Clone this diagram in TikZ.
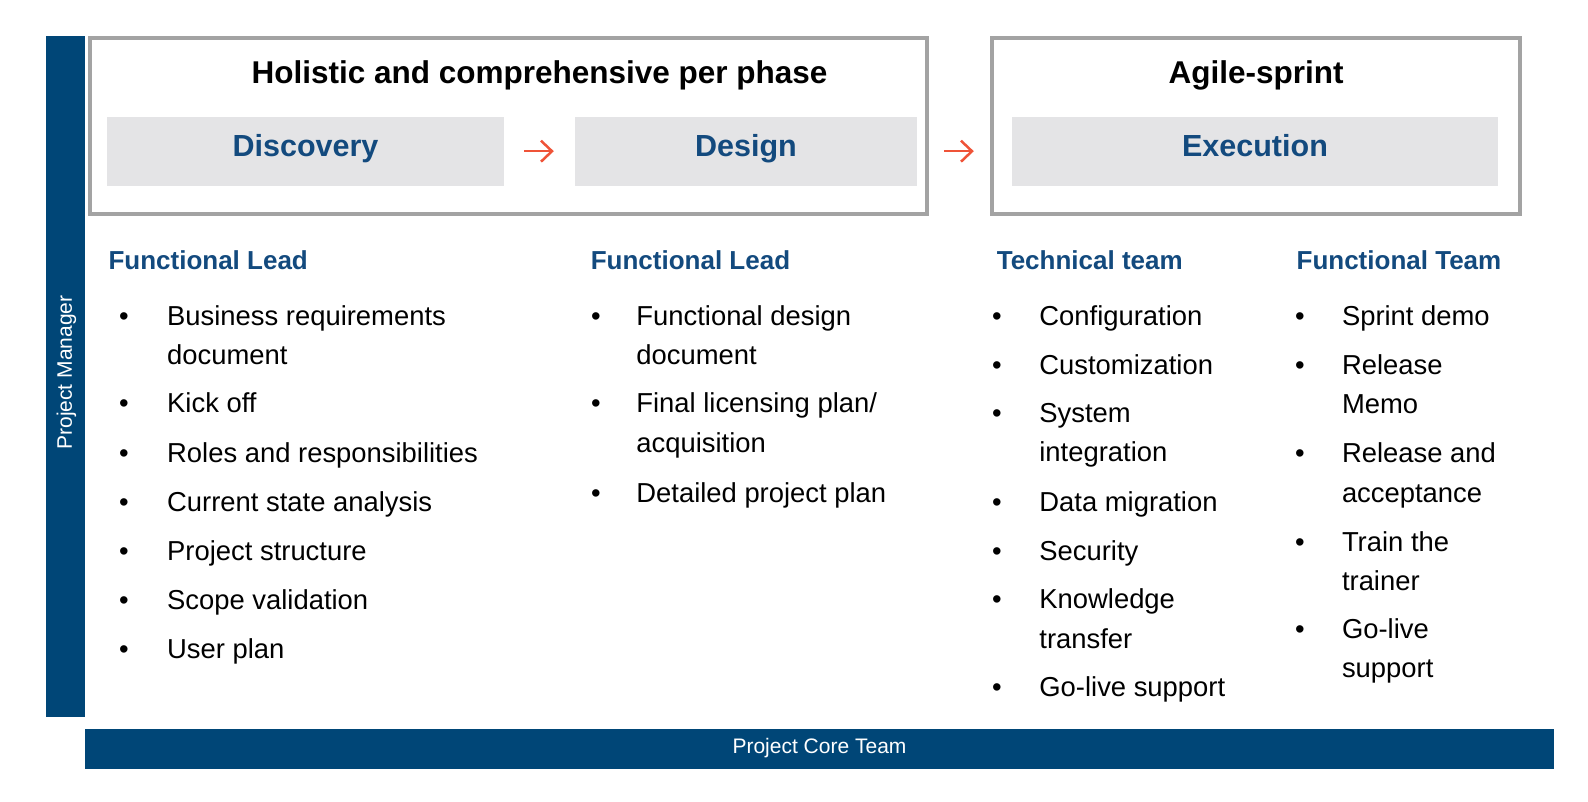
\documentclass[tikz,border=0pt]{standalone}
\usepackage{fontspec}
\setmainfont{Liberation Sans}
\usetikzlibrary{arrows.meta}
\definecolor{barblue}{HTML}{004677}
\definecolor{hblue}{HTML}{134A7E}
\definecolor{boxgray}{HTML}{E4E4E6}
\definecolor{framegray}{HTML}{A3A3A3}
\definecolor{arrred}{HTML}{EF5338}
\tikzset{
  bar/.style={fill=barblue, draw=none, inner sep=0pt},
  framebox/.style={draw=framegray, line width=4pt, inner sep=0pt},
  phasebox/.style={fill=boxgray, draw=none, inner sep=0pt, minimum height=69pt},
  phasetxt/.style={anchor=base, inner sep=0pt, font=\fontsize{30.5}{36}\selectfont\bfseries, text=hblue},
  titletxt/.style={anchor=base, inner sep=0pt, font=\fontsize{31.5}{38}\selectfont\bfseries, text=black},
  headtxt/.style={anchor=base west, inner sep=0pt, font=\fontsize{26}{31}\selectfont\bfseries, text=hblue},
  itemtxt/.style={anchor=base west, inner sep=0pt, font=\fontsize{27.4}{33}\selectfont, text=black},
  bul/.style={anchor=base, inner sep=0pt, font=\fontsize{27.4}{33}\selectfont, text=black},
  whitetxt/.style={inner sep=0pt, font=\fontsize{21}{25}\selectfont, text=white},
  arr/.style={draw=arrred, line width=2.5pt, -{Straight Barb[length=11pt,width=21pt]}},
}
\begin{document}
\begin{tikzpicture}[x=1pt,y=-1pt]
\useasboundingbox[fill=white] (0,0) rectangle (1588,802);

% side and bottom bars
\node[bar, minimum width=39pt, minimum height=681pt] (pmbar) at (65.5,376.5) {};
\node[whitetxt, rotate=90] (pmtxt) at (66.5,372.5) {Project Manager};
\node[bar, minimum width=1469pt, minimum height=40pt] (corebar) at (819.5,749) {};
\node[whitetxt, anchor=base] (coretxt) at (819.5,753.3) {Project Core Team};

% frames
\node[framebox, minimum width=837pt, minimum height=176pt] (f1) at (508.5,126) {};
\node[framebox, minimum width=528pt, minimum height=176pt] (f2) at (1256,126) {};
\node[titletxt] (t1) at (539.5,83.3) {Holistic and comprehensive per phase};
\node[titletxt] (t2) at (1256,83.3) {Agile-sprint};

% phase boxes
\node[phasebox, minimum width=397pt] (disc) at (305.5,151.2) {};
\node[phasebox, minimum width=342pt] (design) at (746,151.2) {};
\node[phasebox, minimum width=486pt] (exec) at (1255,151.2) {};
\node[phasetxt] (disctxt) at ([yshift=-5.5pt]disc.center) {Discovery};
\node[phasetxt] (designtxt) at ([yshift=-5.5pt]design.center) {Design};
\node[phasetxt] (exectxt) at ([yshift=-5.5pt]exec.center) {Execution};

% arrows
\draw[arr] ([xshift=20pt]disc.east) -- ([xshift=-21pt]design.west);
\draw[arr] ([xshift=27pt]design.east) -- ([xshift=-38pt]exec.west);

% column 1
\node[headtxt] (h1) at (108.3,269.5) {Functional Lead};
\node[bul] (b1a) at (124,325.8) {•};
\node[itemtxt] (i1a) at (167,325.8) {Business requirements};
\node[itemtxt] (i1a2) at (167,364) {document};
\node[bul] (b1b) at (124,412.8) {•};
\node[itemtxt] (i1b) at (167,412.8) {Kick off};
\node[bul] (b1c) at (124,462) {•};
\node[itemtxt] (i1c) at (167,462) {Roles and responsibilities};
\node[bul] (b1d) at (124,511.5) {•};
\node[itemtxt] (i1d) at (167,511.5) {Current state analysis};
\node[bul] (b1e) at (124,560.3) {•};
\node[itemtxt] (i1e) at (167,560.3) {Project structure};
\node[bul] (b1f) at (124,609) {•};
\node[itemtxt] (i1f) at (167,609) {Scope validation};
\node[bul] (b1g) at (124,658) {•};
\node[itemtxt] (i1g) at (167,658) {User plan};

% column 2
\node[headtxt] (h2) at (590.6,269.5) {Functional Lead};
\node[bul] (b2a) at (596,325.8) {•};
\node[itemtxt] (i2a) at (636.2,325.8) {Functional design};
\node[itemtxt] (i2a2) at (636.2,364) {document};
\node[bul] (b2b) at (596,412.8) {•};
\node[itemtxt] (i2b) at (636.2,412.8) {Final licensing plan/};
\node[itemtxt] (i2b2) at (636.2,452.5) {acquisition};
\node[bul] (b2c) at (596,502) {•};
\node[itemtxt] (i2c) at (636.2,502) {Detailed project plan};

% column 3
\node[headtxt] (h3) at (996.6,269.5) {Technical team};
\node[bul] (b3a) at (996.8,325.8) {•};
\node[itemtxt] (i3a) at (1039.2,325.8) {Configuration};
\node[bul] (b3b) at (996.8,374.3) {•};
\node[itemtxt] (i3b) at (1039.2,374.3) {Customization};
\node[bul] (b3c) at (996.8,422.8) {•};
\node[itemtxt] (i3c) at (1039.2,422.8) {System};
\node[itemtxt] (i3c2) at (1039.2,461.8) {integration};
\node[bul] (b3d) at (996.8,511.7) {•};
\node[itemtxt] (i3d) at (1039.2,511.7) {Data migration};
\node[bul] (b3e) at (996.8,560) {•};
\node[itemtxt] (i3e) at (1039.2,560) {Security};
\node[bul] (b3f) at (996.8,608.5) {•};
\node[itemtxt] (i3f) at (1039.2,608.5) {Knowledge};
\node[itemtxt] (i3f2) at (1039.2,648.3) {transfer};
\node[bul] (b3g) at (996.8,696.8) {•};
\node[itemtxt] (i3g) at (1039.2,696.8) {Go-live support};

% column 4
\node[headtxt] (h4) at (1296.4,269.5) {Functional Team};
\node[bul] (b4a) at (1299.8,325.8) {•};
\node[itemtxt] (i4a) at (1341.8,325.8) {Sprint demo};
\node[bul] (b4b) at (1299.8,374.3) {•};
\node[itemtxt] (i4b) at (1341.8,374.3) {Release};
\node[itemtxt] (i4b2) at (1341.8,413.2) {Memo};
\node[bul] (b4c) at (1299.8,462.3) {•};
\node[itemtxt] (i4c) at (1341.8,462.3) {Release and};
\node[itemtxt] (i4c2) at (1341.8,502.3) {acceptance};
\node[bul] (b4d) at (1299.8,551.2) {•};
\node[itemtxt] (i4d) at (1341.8,551.2) {Train the};
\node[itemtxt] (i4d2) at (1341.8,590) {trainer};
\node[bul] (b4e) at (1299.8,638.5) {•};
\node[itemtxt] (i4e) at (1341.8,638.5) {Go-live};
\node[itemtxt] (i4e2) at (1341.8,677) {support};
\end{tikzpicture}
\end{document}
